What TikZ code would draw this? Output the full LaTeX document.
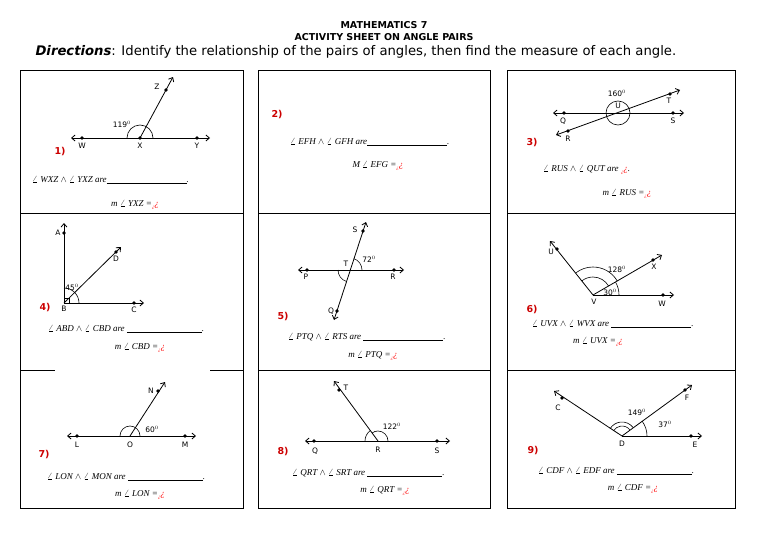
\documentclass[tikz,border=0pt]{standalone}
\usepackage{fontspec}
\setmainfont{Liberation Serif}
\newfontfamily\lblfont{DejaVu Sans}
\usetikzlibrary{arrows.meta,calc}

\tikzset{
  ray/.style={{Straight Barb[length=3.5pt,width=6pt]}-{Straight Barb[length=3.5pt,width=6pt]}, line width=0.8pt},
  half/.style={-{Straight Barb[length=3.5pt,width=6pt]}, line width=0.8pt},
  anglearc/.style={line width=0.6pt},
  dot/.style={circle,fill,inner sep=1.4pt},
  lbl/.style={font=\lblfont\fontsize{7.5}{8}\selectfont, inner sep=0pt},
  num/.style={font=\lblfont\bfseries\fontsize{9.5}{10}\selectfont, text=red!80!black, inner sep=0pt},
  stmt/.style={font=\itshape\fontsize{9}{10}\selectfont, anchor=west, inner sep=0pt},
  meas/.style={font=\itshape\fontsize{9}{10}\selectfont, inner sep=0pt},
  box/.style={line width=0.8pt}
}
\newcommand{\ans}{{\color{red}\raisebox{-2pt}{\tiny¿}¿}}
\newcommand{\blank}[1]{\rule[-1pt]{#1}{0.5pt}.}

\begin{document}
\begin{tikzpicture}[x=1pt,y=-1pt]
  \useasboundingbox (0,0) rectangle (768,543);
  % header
  \node[font=\lblfont\bfseries\fontsize{9.5}{10}\selectfont] (title) at (384,25) {MATHEMATICS 7};
  \node[font=\lblfont\bfseries\fontsize{9.5}{10}\selectfont] (sub) at (384,37) {ACTIVITY SHEET ON ANGLE PAIRS};
  \node[font=\lblfont\fontsize{13.2}{14}\selectfont, anchor=west] (dir) at (32,52)
    {\textbf{\textit{Directions}}: Identify the relationship of the pairs of angles, then find the measure of each angle.};

  % boxes
  \draw[box] (20,70) rectangle (243,508);
  \draw[box] (258,70) rectangle (490,508);
  \draw[box] (507,70) rectangle (735,508);
  \draw[box] (20,213) -- (243,213);
  \draw[box] (20,370) -- (55,370) (210,370) -- (243,370);
  \draw[box] (258,213) -- (490,213) (258,370) -- (490,370);
  \draw[box] (507,213) -- (735,213) (507,370) -- (735,370);

  % 1)
  \node[dot] (W) at (82,138) {};
  \node[dot] (X) at (140,138) {};
  \node[dot] (Y) at (197,138) {};
  \node[dot] (Z) at (166,90) {};
  \coordinate (w1) at (71,138);
  \coordinate (y1) at (210,138);
  \coordinate (z1) at (173,77);
  \draw[ray] (w1) -- (y1);
  \draw[half] (X.center) -- (z1);
  \draw[anglearc] ($(X.center)+(13pt,0pt)$) arc[start angle=0,end angle=180,radius=13pt];
  \node[lbl] at (82,146) {W};
  \node[lbl] at (140,146) {X};
  \node[lbl] at (197,146) {Y};
  \node[lbl] at (157,87) {Z};
  \node[lbl] at (122,124) {119$^0$};
  \node[num] at (60,152) {1)};
  \node[stmt] at (32,180) {$\angle$ WXZ $\wedge$ $\angle$ YXZ are\blank{80pt}};
  \node[meas] at (135,205) {m $\angle$ YXZ =\ans};

  % 2)
  \node[num] at (277,115) {2)};
  \node[stmt] at (290,142) {$\angle$ EFH $\wedge$ $\angle$ GFH are\blank{80pt}};
  \node[meas] at (378,166) {M $\angle$ EFG =\ans};

  % 3)
  \node[dot] (Q3) at (564,113) {};
  \node[dot] (S3) at (673,113) {};
  \node[dot] (R3) at (568,131) {};
  \node[dot] (T3) at (670,94) {};
  \coordinate (U3) at (618,113);
  \coordinate (q1) at (553,113);
  \coordinate (s1) at (684,113);
  \coordinate (r1) at (556,135);
  \coordinate (t1) at (680,90);
  \draw[ray] (q1) -- (s1);
  \draw[ray] (r1) -- (t1);
  \draw[anglearc] (U3) circle[radius=12pt];
  \node[lbl] at (563,121) {Q};
  \node[lbl] at (673,121) {S};
  \node[lbl] at (568,139) {R};
  \node[lbl] at (669,101) {T};
  \node[lbl] at (618,106) {U};
  \node[lbl] at (617,93) {160$^0$};
  \node[num] at (532,143) {3)};
  \node[stmt] at (543,170) {$\angle$ RUS $\wedge$ $\angle$ QUT are \ans.};
  \node[meas] at (627,194) {m $\angle$ RUS =\ans};

  % 4)
  \node[dot] (A4) at (64,233) {};
  \node[dot] (C4) at (134,303) {};
  \node[dot] (D4) at (116,252) {};
  \coordinate (B4) at (64,303);
  \coordinate (a1) at (64,223);
  \coordinate (c1) at (144,303);
  \coordinate (d1) at (121,247);
  \draw[half] (B4) -- (a1);
  \draw[half] (B4) -- (c1);
  \draw[half] (B4) -- (d1);
  \draw[line width=0.5pt] (64,298) -- (69,298) -- (69,303);
  \draw[anglearc] ($(B4)+(15pt,0pt)$) arc[start angle=0,end angle=90,radius=15pt];
  \node[lbl] at (58,233) {A};
  \node[lbl] at (64,309) {B};
  \node[lbl] at (134,310) {C};
  \node[lbl] at (116,259) {D};
  \node[lbl] at (72,287) {45$^0$};
  \node[num] at (45,308) {4)};
  \node[stmt] at (48,329) {$\angle$ ABD $\wedge$ $\angle$ CBD are \blank{75pt}};
  \node[meas] at (140,348) {m $\angle$ CBD =\ans};

  % 5)
  \node[dot] (P5) at (307,270) {};
  \node[dot] (R5) at (394,270) {};
  \node[dot] (S5) at (363,231) {};
  \node[dot] (Q5) at (337,311) {};
  \coordinate (T5) at (350,270);
  \coordinate (p1) at (298,270);
  \coordinate (r1) at (404,270);
  \coordinate (s1) at (366,222);
  \coordinate (q1) at (334,320);
  \draw[ray] (p1) -- (r1);
  \draw[ray] (q1) -- (s1);
  \draw[anglearc] ($(T5)+(12pt,0pt)$) arc[start angle=0,end angle=72,radius=12pt];
  \draw[anglearc] ($(T5)+(-12pt,0pt)$) arc[start angle=180,end angle=252,radius=12pt];
  \node[lbl] at (355,230) {S};
  \node[lbl] at (346,264) {T};
  \node[lbl] at (369,259) {72$^0$};
  \node[lbl] at (306,277) {P};
  \node[lbl] at (393,277) {R};
  \node[lbl] at (331,311) {Q};
  \node[num] at (283,317) {5)};
  \node[stmt] at (288,337) {$\angle$ PTQ $\wedge$ $\angle$ RTS are \blank{80pt}};
  \node[meas] at (373,356) {m $\angle$ PTQ =\ans};

  % 6)
  \node[dot] (U6) at (557,249) {};
  \node[dot] (X6) at (653,260) {};
  \node[dot] (W6) at (663,295) {};
  \coordinate (V6) at (593,295);
  \coordinate (u1) at (550,241);
  \coordinate (x1) at (662,255);
  \coordinate (w1) at (674,295);
  \draw[half] (V6) -- (u1);
  \draw[half] (V6) -- (x1);
  \draw[half] (V6) -- (w1);
  \draw[anglearc] ($(V6)+(30:28pt)$) arc[start angle=30,end angle=128,radius=28pt];
  \draw[anglearc] ($(V6)+(30:18pt)$) arc[start angle=30,end angle=128,radius=18pt];
  \draw[anglearc] ($(V6)+(26pt,0pt)$) arc[start angle=0,end angle=30,radius=26pt];
  \node[lbl] at (551,252) {U};
  \node[lbl] at (594,302) {V};
  \node[lbl] at (662,304) {W};
  \node[lbl] at (654,267) {X};
  \node[lbl] at (617,269) {128$^0$};
  \node[lbl] at (610,292) {30$^0$};
  \node[num] at (532,310) {6)};
  \node[stmt] at (532,324) {$\angle$ UVX $\wedge$ $\angle$ WVX are \blank{80pt}};
  \node[meas] at (598,342) {m $\angle$ UVX =\ans};

  % 7)
  \node[dot] (L7) at (77,436) {};
  \node[dot] (M7) at (185,436) {};
  \node[dot] (N7) at (158,391) {};
  \coordinate (O7) at (130,436);
  \coordinate (l1) at (67,436);
  \coordinate (m1) at (196,436);
  \coordinate (n1) at (165,382);
  \draw[ray] (l1) -- (m1);
  \draw[half] (O7) -- (n1);
  \draw[anglearc] ($(O7)+(10pt,0pt)$) arc[start angle=0,end angle=180,radius=10pt];
  \node[lbl] at (77,445) {L};
  \node[lbl] at (130,445) {O};
  \node[lbl] at (185,445) {M};
  \node[lbl] at (151,391) {N};
  \node[lbl] at (152,429) {60$^0$};
  \node[num] at (44,455) {7)};
  \node[stmt] at (47,477) {$\angle$ LON $\wedge$ $\angle$ MON are \blank{75pt}};
  \node[meas] at (140,495) {m $\angle$ LON =\ans};

  % 8)
  \node[dot] (Q8) at (314,441) {};
  \node[dot] (S8) at (437,441) {};
  \node[dot] (T8) at (339,390) {};
  \coordinate (R8) at (378,441);
  \coordinate (q2) at (305,441);
  \coordinate (s2) at (450,441);
  \coordinate (t2) at (334,381);
  \draw[ray] (q2) -- (s2);
  \draw[half] (R8) -- (t2);
  \draw[anglearc] ($(R8)+(127:13pt)$) arc[start angle=127,end angle=180,radius=13pt];
  \draw[anglearc] ($(R8)+(10pt,0pt)$) arc[start angle=0,end angle=127,radius=10pt];
  \node[lbl] at (315,451) {Q};
  \node[lbl] at (378,450) {R};
  \node[lbl] at (437,451) {S};
  \node[lbl] at (346,388) {T};
  \node[lbl] at (392,426) {122$^0$};
  \node[num] at (283,452) {8)};
  \node[stmt] at (292,473) {$\angle$ QRT $\wedge$ $\angle$ SRT are \blank{75pt}};
  \node[meas] at (385,491) {m $\angle$ QRT =\ans};

  % 9)
  \node[dot] (C9) at (562,398) {};
  \node[dot] (E9) at (691,436) {};
  \node[dot] (F9) at (685,390) {};
  \coordinate (D9) at (622,436);
  \coordinate (c2) at (554,391);
  \coordinate (e2) at (702,436);
  \coordinate (f2) at (692,385);
  \draw[half] (D9) -- (c2);
  \draw[half] (D9) -- (e2);
  \draw[half] (D9) -- (f2);
  \draw[anglearc] ($(D9)+(37:14pt)$) arc[start angle=37,end angle=149,radius=14pt];
  \draw[anglearc] ($(D9)+(37:10pt)$) arc[start angle=37,end angle=149,radius=10pt];
  \draw[anglearc] ($(D9)+(25pt,0pt)$) arc[start angle=0,end angle=37,radius=25pt];
  \node[lbl] at (558,408) {C};
  \node[lbl] at (622,444) {D};
  \node[lbl] at (695,445) {E};
  \node[lbl] at (687,398) {F};
  \node[lbl] at (637,412) {149$^0$};
  \node[lbl] at (665,424) {37$^0$};
  \node[num] at (533,451) {9)};
  \node[stmt] at (538,471) {$\angle$ CDF $\wedge$ $\angle$ EDF are \blank{75pt}};
  \node[meas] at (633,489) {m $\angle$ CDF =\ans};
\end{tikzpicture}
\end{document}
